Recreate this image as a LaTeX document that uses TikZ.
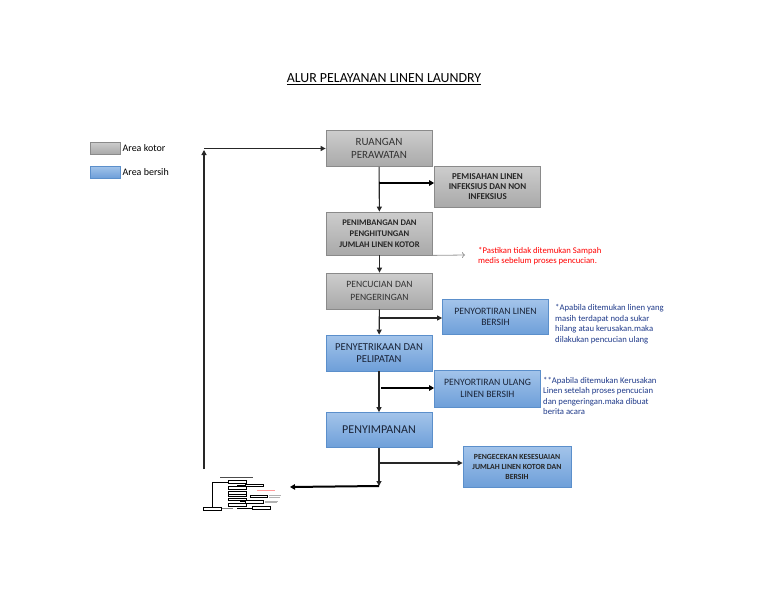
\documentclass[tikz,border=0pt]{standalone}
\usepackage{fontspec}
\setmainfont{Carlito}
\usetikzlibrary{arrows.meta}
\definecolor{gtop}{HTML}{CDCDCD}
\definecolor{gbot}{HTML}{A9A9A9}
\definecolor{gline}{HTML}{8A8A8A}
\definecolor{btop}{HTML}{A3C4EA}
\definecolor{bbot}{HTML}{6E9FD9}
\definecolor{bline}{HTML}{5B8FCB}
\definecolor{gtext}{HTML}{333333}
\definecolor{btext}{HTML}{1A2438}
\definecolor{navy}{HTML}{1F3A8A}
\definecolor{notered}{HTML}{FF0000}
\newcommand\myfs[2]{\fontsize{#1}{#2}\selectfont}
\tikzset{
  gbox/.style={draw=gline, line width=0.8pt, top color=gtop, bottom color=gbot, minimum width=106pt, inner sep=1pt, align=center, text=gtext},
  bbox/.style={draw=bline, line width=0.8pt, top color=btop, bottom color=bbot, minimum width=106pt, inner sep=1pt, align=center, text=btext},
  arr/.style={-{Triangle[length=5pt,width=5pt]}, line width=1.1pt, draw=black!85},
  arrthick/.style={-{Triangle[length=5pt,width=5.5pt]}, line width=2pt, draw=black},
  note/.style={anchor=west, align=left, inner sep=0pt, font=\myfs{8.7}{10.5}}
}
\begin{document}
\begin{tikzpicture}[x=1pt,y=-1pt]
\useasboundingbox[fill=white] (0,0) rectangle (768,594);

% title
\node (title) at (384,79) {\myfs{13.9}{16}\underline{ALUR PELAYANAN LINEN LAUNDRY}};

% legend
\node[gbox, minimum width=30pt, minimum height=12pt] (lg) at (105,148) {};
\node[anchor=west, font=\myfs{10}{11}, inner sep=2pt] (lgt) at (lg.east) {Area kotor};
\node[bbox, minimum width=30pt, minimum height=12pt] (lb) at (105,172) {};
\node[anchor=west, font=\myfs{10}{11}, inner sep=2pt] (lbt) at (lb.east) {Area bersih};

% boxes
\node[gbox, minimum height=36pt, font=\myfs{11}{12.5}] (ruang) at (379,148.5) {RUANGAN\\PERAWATAN};
\node[gbox, minimum height=41pt, font=\bfseries\myfs{9}{10.3}, text=black!85] (pemis) at (487.5,186.5) {PEMISAHAN LINEN\\INFEKSIUS DAN NON\\INFEKSIUS};
\node[gbox, minimum height=43pt, font=\bfseries\myfs{8.6}{11}, text=black!85] (penim) at (379.5,233.5) {PENIMBANGAN DAN\\PENGHITUNGAN\\JUMLAH LINEN KOTOR};
\node[gbox, minimum height=36pt, font=\myfs{9.6}{13}] (pencu) at (379.5,291) {PENCUCIAN DAN\\PENGERINGAN};
\node[bbox, minimum height=35pt, font=\myfs{9.7}{11.5}] (psort) at (495.5,317) {PENYORTIRAN LINEN\\BERSIH};
\node[bbox, minimum height=36pt, font=\myfs{10.6}{12.5}] (penyet) at (379,353) {PENYETRIKAAN DAN\\PELIPATAN};
\node[bbox, minimum height=37pt, font=\myfs{9.7}{11.5}] (pulang) at (487.5,388.5) {PENYORTIRAN ULANG\\LINEN BERSIH};
\node[bbox, minimum height=35pt, font=\myfs{12}{14}] (penyim) at (379,430) {PENYIMPANAN};
\node[bbox, minimum width=108pt, minimum height=41pt, font=\bfseries\myfs{7.8}{10}, text=black!85] (penge) at (517,466.5) {PENGECEKAN KESESUAIAN\\JUMLAH LINEN KOTOR DAN\\BERSIH};

% notes
\node[note, text=notered] (n1) at (478,256) {*Pastikan tidak ditemukan Sampah\\medis sebelum proses pencucian.};
\node[note, text=navy] (n2) at (555,324) {*Apabila ditemukan linen yang\\masih terdapat noda sukar\\hilang atau kerusakan.maka\\dilakukan pencucian ulang};
\node[note, text=navy] (n3) at (543,396) {**Apabila ditemukan Kerusakan\\Linen setelah proses pencucian\\dan pengeringan.maka dibuat\\berita acara};

% main flow
\draw[arr] (ruang) -- (penim);
\draw[arr] (penim) -- (pencu);
\draw[arr] (pencu) -- (penyet);
\draw[arr] (penyet) -- (penyim);
\coordinate (endp) at (379,486);
\draw[arr] (penyim) -- (endp);

% branches
\coordinate (b1) at (379,183);
\draw[arrthick] (b1) -- (b1 -| pemis.west);
\coordinate (b2) at (379,318);
\draw[arr] (b2) -- (b2 -| psort.west);
\coordinate (b3) at (381,388);
\draw[arrthick] (b3) -- (b3 -| pulang.west);
\coordinate (b4) at (379,463);
\draw[arr] (b4) -- (b4 -| penge.west);

% gray arrow
\coordinate (g2) at (465,255);
\draw[-{To[length=3pt,width=6pt]}, line width=0.8pt, draw=black!40] (penim.south east) -- (g2);

% bottom arrow to thumbnail
\coordinate (tha) at (290,487);
\draw[arrthick] (endp) -- (tha);

% return line
\coordinate (rb) at (204,469);
\coordinate (rt) at (204,150);
\coordinate (rh) at (204,148.5);
\draw[arr] (rb) -- (rt);
\draw[arr] (rh) -- (rh -| ruang.west);

% thumbnail of the diagram
\begin{scope}[line width=0.7pt]
\draw[black!70, line width=1pt] (220,477) -- (253,477);
\draw[fill=white] (228,480.5) rectangle (246,483);
\draw (212,482) -- (228,482);
\draw (212,482) -- (212,507.5);
\draw[fill=white] (203,507) rectangle (221,510);
\draw[black!50, line width=0.3pt] (222,508) -- (233,508);
\draw (237,485.5) -- (245,485.5);
\draw[fill=white] (245,484) rectangle (263,486.5);
\draw[fill=white] (228,486.5) rectangle (246,489);
\draw[notered!40, line width=0.3pt] (257,490) -- (275,490);
\draw[fill=white] (228,491.5) rectangle (246,494);
\draw[fill=white] (228,494) rectangle (246,496.5);
\draw[fill=white] (250,495) rectangle (267,497.5);
\draw[black!30, line width=0.3pt] (269,495.5) -- (281,495.5) (269,497) -- (280,497);
\draw[fill=white] (228,498) rectangle (246,500.5);
\draw (240,501.5) -- (245,501.5);
\draw[fill=white] (245,500.5) rectangle (263,503);
\draw[black!30, line width=0.3pt] (265,501) -- (278,501) (265,502.5) -- (277,502.5);
\draw[fill=white] (228,503.5) rectangle (246,506);
\draw (237,508) -- (252,508);
\draw[fill=white] (252,506.5) rectangle (270,509.5);
\end{scope}
\end{tikzpicture}
\end{document}
